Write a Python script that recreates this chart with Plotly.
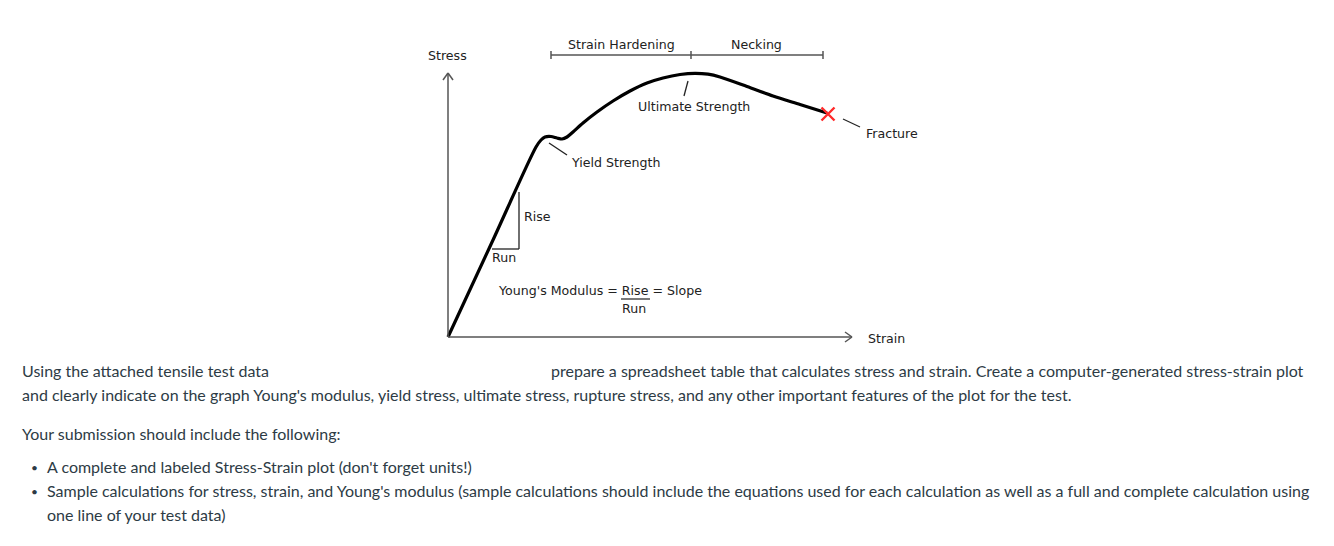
import plotly.graph_objects as go

# Diagram coordinates: strain (right) and stress (up), origin at the axes corner
curve_strain = [0, 45, 88, 93, 97, 103, 109, 114, 119, 125, 135, 149, 165, 182, 199, 215, 232, 247, 260, 272, 299, 325, 352, 379]
curve_stress = [0, 97, 190, 197, 200, 200.5, 199, 198, 200, 205, 214, 225, 236, 246, 254, 259, 262.5, 263.7, 262.8, 260, 250.5, 241, 232.5, 224]
fracture_strain = [380]
fracture_stress = [223]

OX, OY = 448, 337  # pixel of origin in the 1334x546 page
def px(x):
    return x - OX
def py(y):
    return OY - y

fig = go.Figure()
fig.add_trace(go.Scatter(x=curve_strain, y=curve_stress, mode="lines",
                         line=dict(color="black", width=3.2, shape="spline", smoothing=0.8),
                         hoverinfo="skip"))
fig.add_trace(go.Scatter(x=fracture_strain, y=fracture_stress, mode="markers",
                         marker=dict(symbol="x-thin", size=13, line=dict(width=2.4, color="#ff2a2a")),
                         hoverinfo="skip"))

grey = "#555555"
shapes = []
def line(x0, y0, x1, y1, color=grey, w=1.5):
    shapes.append(dict(type="line", xref="x", yref="y", x0=px(x0), y0=py(y0), x1=px(x1), y1=py(y1),
                       line=dict(color=color, width=w)))
# axes
line(448, 337, 448, 73)
line(443, 80, 448, 73); line(453, 80, 448, 73)
line(448, 337, 852, 337)
line(845, 332, 852, 337); line(845, 342, 852, 337)
# bracket
line(551, 55, 823, 55)
for bx in (551, 691, 823):
    line(bx, 51, bx, 59)
# leaders
line(688, 81, 684, 96, color="#222", w=1.3)
line(549, 143, 567, 155, color="#222", w=1.3)
line(843, 119, 860, 127, color="#222", w=1.3)
# rise/run triangle
line(519, 192, 519, 249, color="#222", w=1.3)
line(492, 249, 519, 249, color="#222", w=1.3)
# fraction bar
line(621, 299, 650, 299, color="#222", w=1.2)

anns = []
def txt(x, y, s, anchor="left", size=12.6, font="DejaVu Sans", color="#222222"):
    anns.append(dict(x=px(x), y=py(y), xref="x", yref="y", text=s, showarrow=False,
                     xanchor=anchor, yanchor="middle", borderpad=0,
                     font=dict(family=font, size=size, color=color)))

txt(447, 55, "Stress", "center")
txt(621, 44, "Strain Hardening", "center")
txt(756, 44, "Necking", "center")
txt(694, 106, "Ultimate Strength", "center")
txt(570, 162, "Yield Strength")
txt(865, 133, "Fracture")
txt(523, 216, "Rise")
txt(491, 257, "Run")
txt(497, 290, "Young's Modulus = Rise = Slope")
txt(634, 308, "Run", "center")
txt(867, 338, "Strain")

body = "Lato"
bc = "#2d3b45"
def btxt(x, y, s, size=16):
    txt(x, y, s, size=size, font=body, color=bc)
btxt(21, 370, "Using the attached tensile test data")
btxt(550, 370, "prepare a spreadsheet table that calculates stress and strain. Create a computer-generated stress-strain plot")
btxt(21, 394, "and clearly indicate on the graph Young's modulus, yield stress, ultimate stress, rupture stress, and any other important features of the plot for the test.")
btxt(21, 433, "Your submission should include the following:")
btxt(30, 467, "•", size=12)
btxt(46, 466, "A complete and labeled Stress-Strain plot (don't forget units!)")
btxt(30, 491, "•", size=12)
btxt(46, 490, "Sample calculations for stress, strain, and Young's modulus (sample calculations should include the equations used for each calculation as well as a full and complete calculation using")
btxt(46, 514, "one line of your test data)")

fig.update_layout(
    width=1334, height=546, margin=dict(l=0, r=0, t=0, b=0),
    paper_bgcolor="white", plot_bgcolor="white", showlegend=False,
    xaxis=dict(range=[px(0), px(1334)], visible=False, fixedrange=True),
    yaxis=dict(range=[py(546), py(0)], visible=False, fixedrange=True),
    shapes=shapes, annotations=anns,
)
fig.write_html("out.html")
